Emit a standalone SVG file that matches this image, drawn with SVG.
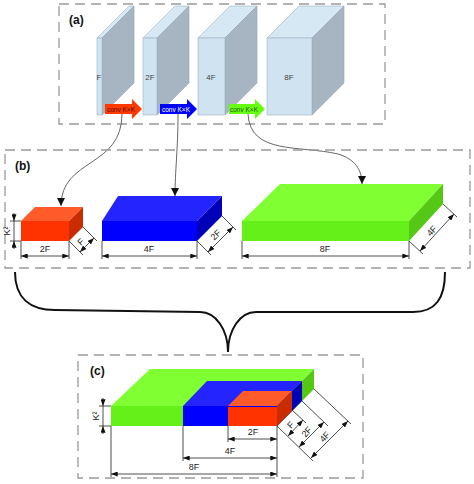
<svg xmlns="http://www.w3.org/2000/svg" width="474" height="484" viewBox="0 0 474 484">
<style>
.box{fill:none;stroke:#9a9a9a;stroke-width:1.3;stroke-dasharray:10,6}
.pl{font-family:"Liberation Sans",Arial,sans-serif;font-weight:bold;font-size:12px;fill:#111}
.ft{fill:#cfe3f1;stroke:#9fb3c3;stroke-width:0.6}
.tp{fill:#d6e8f4;stroke:#9fb3c3;stroke-width:0.6}
.sd{fill:#a6b5c1;stroke:#95a5b2;stroke-width:0.6}
.al{font-family:"Liberation Sans",Arial,sans-serif;font-size:8px;fill:#444;text-anchor:middle}
.cv{font-family:"Liberation Sans",Arial,sans-serif;font-size:6.5px;text-anchor:middle}
.dim{stroke:#222;stroke-width:0.8;fill:none}
.dl{font-family:"Liberation Sans",Arial,sans-serif;font-size:9px;fill:#222;text-anchor:middle}
.con{stroke:#555;stroke-width:0.9;fill:none}
.rt{fill:#ff5a2a}.rf{fill:#ff3300}.rs{fill:#c92c00}
.bt{fill:#2424ff}.bf{fill:#0000ff}.bs{fill:#0000b8}
.gt{fill:#80ff33}.gf{fill:#66f01a}.gs{fill:#55c815}
</style>
<defs>
<marker id="da" viewBox="0 0 8 6" refX="8" refY="3" markerWidth="7" markerHeight="5" markerUnits="userSpaceOnUse" orient="auto-start-reverse"><path d="M0,0 L8,3 L0,6 z" fill="#111"/></marker>
<marker id="ca" viewBox="0 0 8 8" refX="8" refY="4" markerWidth="10" markerHeight="8" markerUnits="userSpaceOnUse" orient="auto"><path d="M0,0 L8,4 L0,8 z" fill="#111"/></marker>
</defs>

<g id="panel-a">
<rect class="box" x="59" y="4" width="326" height="120"/>
<text class="pl" x="69" y="24">(a)</text>
</g>
<g id="map-F">
<polygon class="tp" points="97,38 102,38 134,6 129,6"/>
<polygon class="sd" points="102,38 134,6 134,83 102,115"/>
<rect class="ft" x="97" y="38" width="5" height="77"/>
<text class="al" x="99" y="80">F</text>
</g>
<g id="map-2F">
<polygon class="tp" points="143,38 157,38 189,6 175,6"/>
<polygon class="sd" points="157,38 189,6 189,83 157,115"/>
<rect class="ft" x="143" y="38" width="14" height="77"/>
<text class="al" x="150" y="80">2F</text>
</g>
<g id="map-4F">
<polygon class="tp" points="198,38 225,38 257,6 230,6"/>
<polygon class="sd" points="225,38 257,6 257,83 225,115"/>
<rect class="ft" x="198" y="38" width="27" height="77"/>
<text class="al" x="211" y="80">4F</text>
</g>
<g id="map-8F">
<polygon class="tp" points="267,38 312,38 344,6 299,6"/>
<polygon class="sd" points="312,38 344,6 344,83 312,115"/>
<rect class="ft" x="267" y="38" width="45" height="77"/>
<text class="al" x="289" y="80">8F</text>
</g>
<g id="conv-red">
<polygon fill="#ff3a00" points="105,104 132,104 132,99 142,109 132,119 132,114 105,114"/>
<text class="cv" x="121" y="111.5" fill="#5a0d00">conv K×K</text>
</g>
<g id="conv-blue">
<polygon fill="#0000ff" points="160,104 187,104 187,99 197,109 187,119 187,114 160,114"/>
<text class="cv" x="176" y="111.5" fill="#ffffff">conv K×K</text>
</g>
<g id="conv-green">
<polygon fill="#66ff11" points="229,104 255,104 255,99 265,109 255,119 255,114 229,114"/>
<text class="cv" x="244" y="111.5" fill="#1d5a00">conv K×K</text>
</g>

<g id="connectors">
<path class="con" d="M122,114 C122,168 61,158 61,206" marker-end="url(#ca)"/>
<path class="con" d="M178,114 C178,150 175,170 175,196" marker-end="url(#ca)"/>
<path class="con" d="M248,114 C250,155 300,145 338,154 C355,159 362,170 362,184" marker-end="url(#ca)"/>
<path d="M15,272 C15,298 30,310 55,310 L200,312 C216,312 228,330 228,352 C228,330 240,312 256,312 L413,312 C436,312 445,298 445,272" fill="none" stroke="#111" stroke-width="2"/>
</g>

<g id="panel-b">
<rect class="box" x="5" y="150" width="465" height="118"/>
<text class="pl" x="15" y="170">(b)</text>
</g>
<g id="slab-red">
<polygon class="rt" points="21,221 69,221 83,207 35,207"/>
<polygon class="rs" points="69,221 83,207 83,227 69,241"/>
<rect class="rf" x="21" y="221" width="48" height="20"/>
<line class="dim" x1="10" y1="221" x2="21" y2="221"/>
<line class="dim" x1="10" y1="241" x2="21" y2="241"/>
<line class="dim" x1="14" y1="213" x2="14" y2="221" marker-end="url(#da)"/>
<line class="dim" x1="14" y1="249" x2="14" y2="241" marker-end="url(#da)"/>
<line class="dim" x1="14" y1="221" x2="14" y2="241"/>
<text class="dl" font-size="8" transform="translate(10,231) rotate(-90)">K²</text>
<line class="dim" x1="21" y1="241" x2="21" y2="259"/>
<line class="dim" x1="69" y1="241" x2="69" y2="259"/>
<line class="dim" x1="21" y1="256" x2="69" y2="256" marker-start="url(#da)" marker-end="url(#da)"/>
<text class="dl" x="45" y="252">2F</text>
<line class="dim" x1="69" y1="241" x2="83" y2="255"/>
<line class="dim" x1="83" y1="227" x2="97" y2="241"/>
<line class="dim" x1="80" y1="252" x2="94" y2="238" marker-start="url(#da)" marker-end="url(#da)"/>
<text class="dl" transform="translate(83,244) rotate(-45)">F</text>
</g>
<g id="slab-blue">
<polygon class="bt" points="102,221 197,221 222,196 118,196"/>
<polygon class="bs" points="197,221 222,196 222,216 197,241"/>
<rect class="bf" x="102" y="221" width="95" height="20"/>
<line class="dim" x1="102" y1="241" x2="102" y2="259"/>
<line class="dim" x1="197" y1="241" x2="197" y2="259"/>
<line class="dim" x1="102" y1="256" x2="197" y2="256" marker-start="url(#da)" marker-end="url(#da)"/>
<text class="dl" x="149" y="252">4F</text>
<line class="dim" x1="197" y1="241" x2="211" y2="255"/>
<line class="dim" x1="222" y1="216" x2="236" y2="230"/>
<line class="dim" x1="208" y1="252" x2="233" y2="227" marker-start="url(#da)" marker-end="url(#da)"/>
<text class="dl" transform="translate(218,237) rotate(-45)">2F</text>
</g>
<g id="slab-green">
<polygon class="gt" points="242,221 409,221 443,184 280,184"/>
<polygon class="gs" points="409,221 443,184 443,204 409,241"/>
<rect class="gf" x="242" y="221" width="167" height="20"/>
<line class="dim" x1="242" y1="241" x2="242" y2="259"/>
<line class="dim" x1="409" y1="241" x2="409" y2="259"/>
<line class="dim" x1="242" y1="256" x2="409" y2="256" marker-start="url(#da)" marker-end="url(#da)"/>
<text class="dl" x="325" y="252">8F</text>
<line class="dim" x1="409" y1="241" x2="423" y2="254"/>
<line class="dim" x1="443" y1="204" x2="457" y2="217"/>
<line class="dim" x1="420" y1="251" x2="454" y2="214" marker-start="url(#da)" marker-end="url(#da)"/>
<text class="dl" transform="translate(434,233) rotate(-47)">4F</text>
</g>

<g id="panel-c">
<rect class="box" x="78" y="355" width="285" height="123"/>
<text class="pl" x="90" y="375">(c)</text>
</g>
<g id="combined">
<polygon class="gt" points="111,406 277,406 314,369 150,369"/>
<polygon class="gs" points="277,406 314,369 314,389 277,426"/>
<rect class="gf" x="111" y="406" width="166" height="20"/>
<polygon class="bt" points="183,406 277,406 302,381 207,381"/>
<polygon class="bs" points="277,406 302,381 302,401 277,426"/>
<rect class="bf" x="183" y="406" width="94" height="20"/>
<polygon class="rt" points="228,406 277,406 292,391 243,391"/>
<polygon class="rs" points="277,406 292,391 292,411 277,426"/>
<rect class="rf" x="228" y="407" width="49" height="19"/>
<line class="dim" x1="99" y1="406" x2="111" y2="406"/>
<line class="dim" x1="99" y1="426" x2="111" y2="426"/>
<line class="dim" x1="103" y1="398" x2="103" y2="406" marker-end="url(#da)"/>
<line class="dim" x1="103" y1="434" x2="103" y2="426" marker-end="url(#da)"/>
<line class="dim" x1="103" y1="406" x2="103" y2="426"/>
<text class="dl" font-size="8" transform="translate(99,416) rotate(-90)">K²</text>
<line class="dim" x1="228" y1="426" x2="228" y2="442"/>
<line class="dim" x1="183" y1="426" x2="183" y2="461"/>
<line class="dim" x1="111" y1="426" x2="111" y2="477"/>
<line class="dim" x1="277" y1="426" x2="277" y2="477"/>
<line class="dim" x1="228" y1="439" x2="277" y2="439" marker-start="url(#da)" marker-end="url(#da)"/>
<text class="dl" x="253" y="435">2F</text>
<line class="dim" x1="183" y1="458" x2="277" y2="458" marker-start="url(#da)" marker-end="url(#da)"/>
<text class="dl" x="230" y="454">4F</text>
<line class="dim" x1="111" y1="474" x2="277" y2="474" marker-start="url(#da)" marker-end="url(#da)"/>
<text class="dl" x="194" y="470">8F</text>
<line class="dim" x1="277" y1="426" x2="313" y2="461"/>
<line class="dim" x1="292" y1="410" x2="306" y2="423"/>
<line class="dim" x1="302" y1="401" x2="328" y2="426"/>
<line class="dim" x1="314" y1="389" x2="351" y2="424"/>
<line class="dim" x1="288" y1="436" x2="303" y2="420" marker-start="url(#da)" marker-end="url(#da)"/>
<line class="dim" x1="299" y1="447" x2="324" y2="422" marker-start="url(#da)" marker-end="url(#da)"/>
<line class="dim" x1="311" y1="458" x2="348" y2="421" marker-start="url(#da)" marker-end="url(#da)"/>
<text class="dl" transform="translate(293,427) rotate(-47)">F</text>
<text class="dl" transform="translate(309,434) rotate(-47)">2F</text>
<text class="dl" transform="translate(327,439) rotate(-47)">4F</text>
</g>
</svg>
